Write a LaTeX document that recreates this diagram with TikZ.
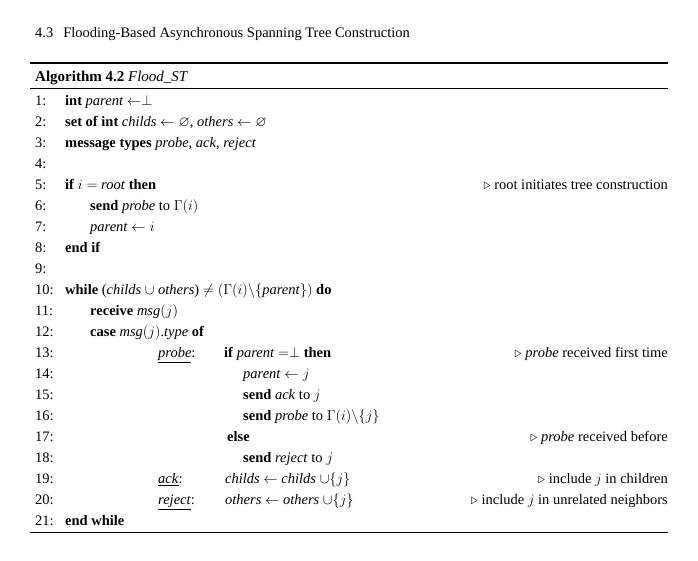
\documentclass[tikz,border=0pt]{standalone}
\usepackage{amssymb}
\usepackage{fontspec}
\setmainfont{Liberation Serif}
\begin{document}
\begin{tikzpicture}[x=1pt,y=-1pt,
  ln/.style={anchor=base west,inner sep=0pt,font=\fontsize{14.5}{16}\selectfont},
  cmtx/.style={anchor=base east,inner sep=0pt,font=\fontsize{14.5}{16}\selectfont}]
\useasboundingbox (0,0) rectangle (698,560);
\node[ln] (hdr) at (35,37) {4.3\hspace{10pt}Flooding-Based Asynchronous Spanning Tree Construction};
\draw[line width=1.2pt] (30,63) -- (668,63);
\node[ln,font=\fontsize{15}{17}\selectfont] (ttl) at (35,81) {\textbf{Algorithm 4.2} \textit{Flood\_ST}};
\draw[line width=0.6pt] (30,88) -- (668,88);
\draw[line width=0.6pt] (30,532) -- (668,532);
\newcommand{\bd}[3]{\node[ln] (b#1) at (#2,{105+21*(#1-1)}) {#3};}
\newcommand{\bdx}[4]{\node[ln] (b#1) at (#2,{105+21*(#4-1)}) {#3};}
\newcommand{\cmt}[2]{\node[cmtx] (c#1) at (668,{105+21*(#1-1)}) {$\triangleright$ #2};}
\foreach \i in {1,...,21} {\node[ln] (n\i) at (35,{105+21*(\i-1)}) {\i:};}
\bd{1}{65}{\textbf{int} \textit{parent} $\leftarrow\perp$}
\bd{2}{65}{\textbf{set of int} \textit{childs} $\leftarrow\varnothing$, \textit{others} $\leftarrow\varnothing$}
\bd{3}{65}{\textbf{message types} \textit{probe}, \textit{ack}, \textit{reject}}
\bd{5}{65}{\textbf{if} $i=$ \textit{root} \textbf{then}}
\cmt{5}{root initiates tree construction}
\bd{6}{90}{\textbf{send} \textit{probe} to $\Gamma(i)$}
\bd{7}{90}{\textit{parent} $\leftarrow i$}
\bd{8}{65}{\textbf{end if}}
\bd{10}{65}{\textbf{while} (\textit{childs} $\cup$ \textit{others}) $\neq(\Gamma(i)\backslash\{$\textit{parent}$\})$ \textbf{do}}
\bd{11}{90}{\textbf{receive} \textit{msg}$(j)$}
\bd{12}{90}{\textbf{case} \textit{msg}$(j)$.\textit{type} \textbf{of}}
\bd{13}{158}{\underline{\textit{probe}}:}
\bdx{113}{224}{\textbf{if} \textit{parent} $=\perp$ \textbf{then}}{13}
\cmt{13}{\textit{probe} received first time}
\bd{14}{243}{\textit{parent} $\leftarrow j$}
\bd{15}{243}{\textbf{send} \textit{ack} to $j$}
\bd{16}{243}{\textbf{send} \textit{probe} to $\Gamma(i)\backslash\{j\}$}
\bd{17}{227}{\textbf{else}}
\cmt{17}{\textit{probe} received before}
\bd{18}{243}{\textbf{send} \textit{reject} to $j$}
\bd{19}{158}{\underline{\textit{ack}}:}
\bdx{119}{225}{\textit{childs} $\leftarrow$ \textit{childs} $\cup\{j\}$}{19}
\cmt{19}{include $j$ in children}
\bd{20}{158}{\underline{\textit{reject}}:}
\bdx{120}{225}{\textit{others} $\leftarrow$ \textit{others} $\cup\{j\}$}{20}
\cmt{20}{include $j$ in unrelated neighbors}
\bd{21}{65}{\textbf{end while}}
\end{tikzpicture}
\end{document}
